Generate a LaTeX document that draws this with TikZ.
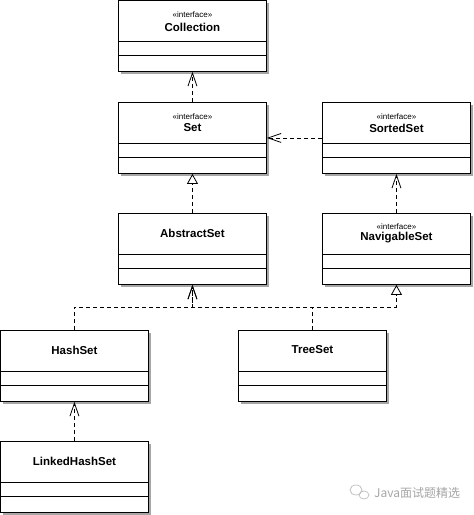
\documentclass[tikz,border=0pt]{standalone}
\usepackage{fontspec}
\setmainfont{Liberation Sans}
\newfontfamily\cjk{Noto Sans CJK SC}
\usetikzlibrary{arrows.meta,shadows,calc}
\begin{document}
\begin{tikzpicture}[x=1pt,y=-1pt,
  classbox/.style={draw, line width=0.9pt, fill=white, minimum width=148pt, minimum height=71pt,
    anchor=north west, inner sep=0pt,
    drop shadow={shadow xshift=3pt, shadow yshift=-3pt, fill=black!35, opacity=1}},
  divider/.style={line width=0.8pt},
  stereo/.style={font=\fontsize{8}{9}\selectfont, inner sep=0pt},
  ctitle/.style={font=\fontsize{11.5}{13}\selectfont\bfseries, inner sep=0pt},
  conn/.style={line width=0.8pt, dash pattern=on 4pt off 3pt},
  dep/.style={conn, -{Straight Barb[length=13pt,width=9pt]}},
  real/.style={conn, -{Triangle[length=10pt,width=11pt,fill=white]}}
]
\useasboundingbox (0,0) rectangle (474,515);
\fill[white] (0,0) rectangle (474,515);

% boxes
\node[classbox] (collection) at (118,0) {};
\node[classbox] (set) at (118,102) {};
\node[classbox] (sorted) at (322,102) {};
\node[classbox] (abs) at (118,213) {};
\node[classbox] (nav) at (322,213) {};
\node[classbox] (hash) at (0,330) {};
\node[classbox] (tree) at (238,330) {};
\node[classbox] (linked) at (0,441) {};

\foreach \n in {collection,set,sorted,abs,nav,hash,tree,linked}{
  \draw[divider] ($(\n.north west)+(0,41)$) -- ($(\n.north east)+(0,41)$);
  \draw[divider] ($(\n.north west)+(0,55.5)$) -- ($(\n.north east)+(0,55.5)$);
}

% texts
\node[stereo] (collection-s) at ($(collection.north)+(0,15)$) {«interface»};
\node[ctitle] (collection-t) at ($(collection.north)+(0,27)$) {Collection};
\node[stereo] (set-s) at ($(set.north)+(0,15)$) {«interface»};
\node[ctitle] (set-t) at ($(set.north)+(0,26)$) {Set};
\node[stereo] (sorted-s) at ($(sorted.north)+(0,15)$) {«interface»};
\node[ctitle] (sorted-t) at ($(sorted.north)+(0,26)$) {SortedSet};
\node[ctitle] (abs-t) at ($(abs.north)+(0,20)$) {AbstractSet};
\node[stereo] (nav-s) at ($(nav.north)+(0,14)$) {«interface»};
\node[ctitle] (nav-t) at ($(nav.north)+(0,25)$) {NavigableSet};
\node[ctitle] (hash-t) at ($(hash.north)+(0,20)$) {HashSet};
\node[ctitle] (tree-t) at ($(tree.north)+(0,20)$) {TreeSet};
\node[ctitle] (linked-t) at ($(linked.north)+(0,20)$) {LinkedHashSet};

% connectors
\coordinate (bus) at (0,307);
\draw[dep] (set.north) -- (collection.south);
\draw[dep] (sorted.west) -- (set.east);
\draw[real] (abs.north) -- (set.south);
\draw[dep] (nav.north) -- (sorted.south);
\draw[dep] (hash.north) -- (hash.north |- bus) -| (abs.south);
\draw[dep] (tree.north) -- (tree.north |- bus) -| (abs.south);
\draw[real] (tree.north) -- (tree.north |- bus) -| (nav.south);
\draw[dep] (linked.north) -- (hash.south);

% watermark
\draw[black!25, line width=0.7pt] (356,490) ellipse (6pt and 5pt);
\draw[black!25, line width=0.7pt] (364,495) ellipse (5pt and 4pt);
\node[font=\cjk\fontsize{12}{14}\selectfont, text=black!35, anchor=west, inner sep=0pt] (wm) at (374,493) {Java面试题精选};
\end{tikzpicture}
\end{document}
